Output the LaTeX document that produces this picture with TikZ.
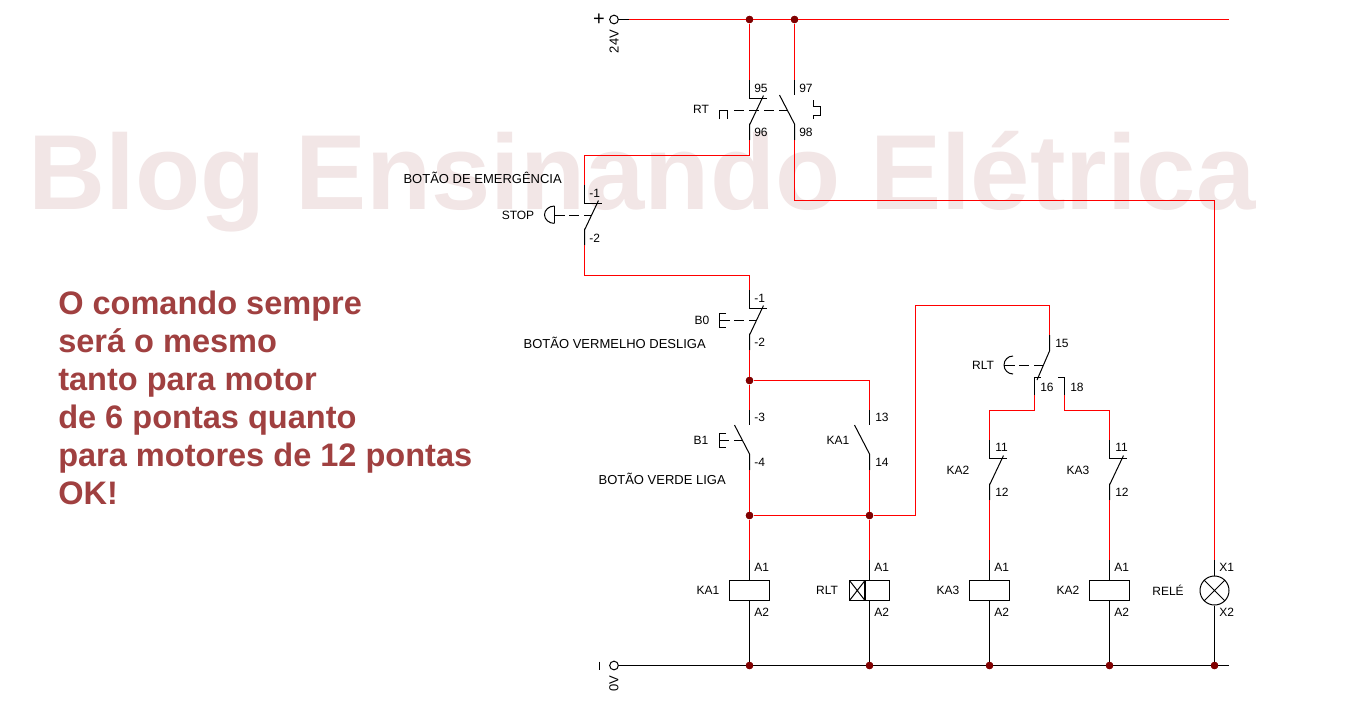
\documentclass[tikz,border=0pt]{standalone}
\usepackage{fontspec}
\setmainfont{Liberation Sans}
\definecolor{wm}{HTML}{F2E6E6}
\definecolor{note}{HTML}{A04040}
\definecolor{junc}{HTML}{800000}
\definecolor{wirered}{HTML}{FF0000}
\tikzset{
  wire/.style={color=wirered,line width=1pt},
  blk/.style={draw=black,line width=0.75pt},
  dashline/.style={draw=black,line width=0.75pt,dash pattern=on 7.5pt off 3.75pt},
  junction/.style={circle,fill=junc,draw=none,minimum size=5.6pt,inner sep=0pt},
  terminal/.style={circle,draw=black,fill=white,line width=0.75pt,minimum size=6.5pt,inner sep=0pt},
  coil/.style={rectangle,draw=black,fill=white,line width=0.75pt,minimum width=30pt,minimum height=15pt,inner sep=0pt},
  lamp/.style={circle,draw=black,fill=white,line width=0.75pt,minimum size=21.75pt,inner sep=0pt},
  lab/.style={inner sep=0pt,font=\fontsize{9}{9}\selectfont,text=black},
  labl/.style={lab,anchor=west},
  longlab/.style={inner sep=0pt,anchor=east,font=\fontsize{9.75}{9.75}\selectfont,text=black},
  raillab/.style={inner sep=0pt,rotate=90,font=\fontsize{9.75}{9.75}\selectfont,text=black},
  notetxt/.style={inner sep=0pt,anchor=base west,text=note,font=\fontsize{24.4}{24.4}\bfseries\selectfont},
}
\newcommand{\contactNC}[3]{% name, x, y top
  \coordinate (#1top) at (#2,#3);
  \coordinate (#1bot) at (#2,#3+60);
  \draw[blk] (#1top) -- ++(0,18) -- ++(17.5,0);
  \draw[blk] (#2+14,#3+15.5) -- (#2+0.5,#3+44) -- (#2,#3+44) -- (#1bot);
}
\newcommand{\contactNO}[3]{% name, x, y top
  \coordinate (#1top) at (#2,#3);
  \coordinate (#1bot) at (#2,#3+60);
  \draw[blk] (#1top) -- ++(0,15);
  \draw[blk] (#2-15,#3+15) -- (#2,#3+44) -- (#1bot);
}
\begin{document}
\begin{tikzpicture}[x=0.75pt,y=-0.75pt]
\useasboundingbox (0,0) rectangle (1345,701);
\fill[white] (0,0) rectangle (1345,701);
% watermark
\node[inner sep=0pt,anchor=center,text=wm,font=\fontsize{80}{80}\bfseries\selectfont] (wmk) at (642,181.5) {Blog Ensinando Elétrica};
% note
\node[notetxt] (n1) at (58,314) {O comando sempre};
\node[notetxt] (n2) at (58,352) {será o mesmo};
\node[notetxt] (n3) at (58,390) {tanto para motor};
\node[notetxt] (n4) at (58,428) {de 6 pontas quanto};
\node[notetxt] (n5) at (58,466) {para motores de 12 pontas};
\node[notetxt] (n6) at (58,504) {OK!};
% rails and junctions
\node[terminal] (tp) at (614,19.5) {};
\node[terminal] (tm) at (614,665.5) {};
\coordinate (tpred) at (629,19.5);
\coordinate (railpe) at (1229,19.5);
\coordinate (railme) at (1229,665.5);
\node[junction] (j95) at (749.5,19.5) {};
\node[junction] (j97) at (794.5,19.5) {};
\node[junction] (j380) at (749.5,380.5) {};
\node[junction] (j515a) at (749.5,515.5) {};
\node[junction] (j515b) at (869.5,515.5) {};
\node[junction] (b1) at (749.5,665.5) {};
\node[junction] (b2) at (869.5,665.5) {};
\node[junction] (b3) at (989.5,665.5) {};
\node[junction] (b4) at (1109.5,665.5) {};
\node[junction] (b5) at (1214.5,665.5) {};
% loads
\node[coil] (cka1) at (749.5,590.5) {};
\node[coil] (crlt) at (869.5,590.5) {};
\node[coil] (cka3) at (989.5,590.5) {};
\node[coil] (cka2) at (1109.5,590.5) {};
\node[lamp] (rele) at (1214.5,590.5) {};
\draw[blk] (rele.45) -- (rele.225) (rele.135) -- (rele.315);
\draw[blk,line width=1pt] (849.5,580.5) rectangle (865,600.5);
\draw[blk] (849.5,580.5) -- (865,600.5) (849.5,600.5) -- (865,580.5);
% contacts
\contactNC{rtnc}{749.5}{80}
\contactNO{rtno}{794.5}{80}
\contactNC{stop}{584.5}{185}
\contactNC{bz}{749.5}{290}
\contactNO{bu}{749.5}{410}
\contactNO{kau}{869.5}{410}
\contactNC{kad}{989.5}{440}
\contactNC{kat}{1109.5}{440}
% changeover RLT
\coordinate (r15) at (1049.5,335);
\coordinate (r15b) at (1049.5,351);
\coordinate (r16) at (1034.5,395);
\coordinate (r18) at (1064.5,395);
\draw[blk] (r15) -- (r15b) -- (1037,380);
\draw[blk] (r16) -- (1034.5,377.5) -- (1041,377.5);
\draw[blk] (r18) -- (1064.5,377.5) -- (1058,377.5);
% coil/lamp stubs
\foreach \n/\x in {cka1/749.5,crlt/869.5,cka3/989.5,cka2/1109.5,rele/1214.5}{
  \draw[blk] (\x,560) -- (\n.north);
}
\draw[blk] (cka1.south) -- (b1);
\draw[blk] (869.5,600.5) -- (b2);
\draw[blk] (cka3.south) -- (b3);
\draw[blk] (cka2.south) -- (b4);
\draw[blk] (rele.south) -- (b5);
\draw[blk] (tp.east) -- (tpred);
\draw[blk] (tm.east) -- (railme);
% red wiring
\draw[wire] (tpred) -- (railpe);
\draw[wire] (j95) -- (rtnctop);
\draw[wire] (j97) -- (rtnotop);
\draw[wire] (rtncbot) -- (749.5,155.5) -- (584.5,155.5) -- (stoptop);
\draw[wire] (stopbot) -- (584.5,275.5) -- (749.5,275.5) -- (bztop);
\draw[wire] (bzbot) -- (j380);
\draw[wire] (j380) -- (butop);
\draw[wire] (j380) -- (869.5,380.5) -- (kautop);
\draw[wire] (bubot) -- (j515a);
\draw[wire] (kaubot) -- (j515b);
\draw[wire] (j515a) -- (j515b);
\draw[wire] (j515b) -- (915.5,515.5) -- (915.5,305.5) -- (1049.5,305.5) -- (r15);
\draw[wire] (r16) -- (1034.5,410.5) -- (989.5,410.5) -- (kadtop);
\draw[wire] (r18) -- (1064.5,410.5) -- (1109.5,410.5) -- (kattop);
\draw[wire] (j515a) -- (749.5,560);
\draw[wire] (j515b) -- (869.5,560);
\draw[wire] (kadbot) -- (989.5,560);
\draw[wire] (katbot) -- (1109.5,560);
\draw[wire] (rtnobot) -- (794.5,200.5) -- (1214.5,200.5) -- (1214.5,560);
% redraw junctions on top
\foreach \n in {j95,j97,j380,j515a,j515b,b1,b2,b3,b4,b5}{\fill[junc] (\n) circle[radius=3.7];}
% actuator symbols
\draw[blk] (719.5,119) -- (719.5,110.5) -- (727,110.5) -- (727,119);
\draw[dashline] (734,110.5) -- (788,110.5);
\draw[blk] (813,100) -- (813,106) -- (820,106) -- (820,115) -- (813,115) -- (813,119);
\draw[blk] (554.5,206) arc[start angle=270,end angle=90,x radius=10,y radius=8.7];
\draw[blk] (554.5,206) -- (554.5,223.4);
\draw[blk] (554.5,215) -- (565,215);
\draw[dashline] (569,215) -- (592,215);
\draw[blk] (726,313) -- (719.5,313) -- (719.5,327) -- (726,327);
\draw[blk] (719.5,320) -- (730,320);
\draw[dashline] (734,320) -- (757,320);
\draw[blk] (726,433) -- (719.5,433) -- (719.5,447) -- (726,447);
\draw[blk] (719.5,440) -- (729,440);
\draw[blk] (734,440) -- (742,440);
\draw[blk] (1013,356) arc[start angle=270,end angle=90,x radius=9,y radius=9];
\draw[blk] (1004,365.5) -- (1015,365.5);
\draw[dashline] (1019,365.5) -- (1043,365.5);
% labels
\node[raillab] (l24) at (614,41.5) {24V};
\node[raillab] (l0) at (614,683.5) {0V};
\node[inner sep=0pt,font=\fontsize{15}{15}\selectfont,text=black] (lplus) at (599,20) {+};
\draw[blk] (599.5,661.5) -- (599.5,670);
\node[labl] (l95) at (754,88) {95};
\node[labl] (l97) at (799,88) {97};
\node[labl] (l96) at (754,132.5) {96};
\node[labl] (l98) at (799,132.5) {98};
\node[lab] (lrt) at (701,109) {RT};
\node[longlab] (lem) at (562,178) {BOTÃO DE EMERGÊNCIA};
\node[labl] (ls1) at (589,193) {-1};
\node[labl] (ls2) at (589,238) {-2};
\node[lab] (lstop) at (518,215) {STOP};
\node[labl] (lb01) at (754,298) {-1};
\node[labl] (lb02) at (754,342) {-2};
\node[lab] (lb0) at (702,320) {B0};
\node[longlab] (lvm) at (706,343) {BOTÃO VERMELHO DESLIGA};
\node[labl] (lb13) at (754,417) {-3};
\node[labl] (lb14) at (754,462) {-4};
\node[lab] (lb1) at (701,440) {B1};
\node[longlab] (lvd) at (726,479) {BOTÃO VERDE LIGA};
\node[labl] (l13) at (875,417) {13};
\node[labl] (l14) at (875,462) {14};
\node[lab] (lka1c) at (838,440) {KA1};
\node[labl] (l15) at (1055,343) {15};
\node[labl] (l16) at (1040,387) {16};
\node[labl] (l18) at (1070,387) {18};
\node[lab] (lrltc) at (983,365) {RLT};
\node[labl] (l11a) at (995,447) {11};
\node[labl] (l12a) at (995,492) {12};
\node[lab] (lka2c) at (958,470) {KA2};
\node[labl] (l11b) at (1115,447) {11};
\node[labl] (l12b) at (1115,492) {12};
\node[lab] (lka3c) at (1078,470) {KA3};
\node[labl] (la1a) at (754,567) {A1};
\node[labl] (la2a) at (754,612) {A2};
\node[lab] (lka1) at (708,590) {KA1};
\node[labl] (la1b) at (874,567) {A1};
\node[labl] (la2b) at (874,612) {A2};
\node[lab] (lrlt) at (827,590) {RLT};
\node[labl] (la1c) at (994,567) {A1};
\node[labl] (la2c) at (994,612) {A2};
\node[lab] (lka3) at (948,590) {KA3};
\node[labl] (la1d) at (1114,567) {A1};
\node[labl] (la2d) at (1114,612) {A2};
\node[lab] (lka2) at (1068,590) {KA2};
\node[labl] (lx1) at (1219,567) {X1};
\node[labl] (lx2) at (1219,612) {X2};
\node[lab] (lrele) at (1168,590) {RELÉ};
\end{tikzpicture}
\end{document}
